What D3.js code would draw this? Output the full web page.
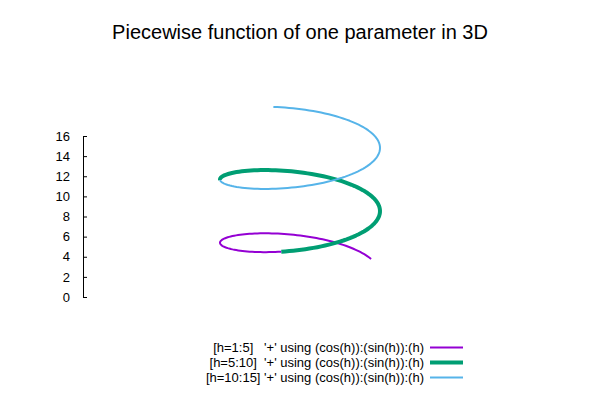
<!DOCTYPE html>
<html><head><meta charset="utf-8">
<script src="https://cdn.jsdelivr.net/npm/d3@7"></script>
<style>body{margin:0;background:#fff}svg{display:block}text{font-family:"Liberation Sans",Arial,sans-serif}</style>
</head><body>
<svg id="c" width="600" height="400"></svg>
<script>
// ---- data ----
const title = "Piecewise function of one parameter in 3D";
const segStart = [1, 5, 10];
const segEnd = [5, 10, 15];
const segLabels = [
  "[h=1:5]   '+' using (cos(h)):(sin(h)):(h)",
  "[h=5:10]  '+' using (cos(h)):(sin(h)):(h)",
  "[h=10:15] '+' using (cos(h)):(sin(h)):(h)"
];
const segColors = ["#9400d3", "#009e73", "#56b4e9"];
const segWidths = [2, 4, 2];
const zTicks = [0, 2, 4, 6, 8, 10, 12, 14, 16];
const samples = 100;
const viewRotZ = 30; // degrees (gnuplot default view 60,30)

// ---- drawing ----
const svg = d3.select("#c");
svg.append("text").attr("x", 300).attr("y", 39).attr("text-anchor", "middle")
  .attr("font-size", 20).text(title);

const zScale = d3.scaleLinear().domain([0, 16]).range([297, 136]);
const xScale = d3.scaleLinear().domain([-1, 1]).range([220, 380]);
const depthScale = d3.scaleLinear().domain([-1, 1]).range([-17.4 + 23, -17.4 - 23]);

const axis = d3.axisRight(zScale).tickValues(zTicks).tickSize(4).tickSizeOuter(4).tickPadding(0);
const ag = svg.append("g").attr("transform", "translate(83,0)").call(axis);
ag.select(".domain").attr("stroke", "#000").attr("stroke-width", 1);
ag.selectAll(".tick line").attr("stroke", "#000");
ag.selectAll(".tick text").attr("x", -13).attr("text-anchor", "end")
  .attr("font-size", 13).attr("fill", "#000").attr("font-family", '"Liberation Sans",Arial,sans-serif');

const rz = viewRotZ * Math.PI / 180;
function project(h) {
  const x = Math.cos(h), y = Math.sin(h), z = h;
  const u = x * Math.cos(rz) + y * Math.sin(rz);
  const v = -x * Math.sin(rz) + y * Math.cos(rz);
  return [xScale(u), zScale(z) + depthScale(v)];
}
const line = d3.line().x(d => d[0]).y(d => d[1]);

segStart.forEach((h0, i) => {
  const h1 = segEnd[i];
  const hs = d3.range(samples).map(k => h0 + (h1 - h0) * k / (samples - 1));
  svg.append("path").attr("d", line(hs.map(project)))
    .attr("fill", "none").attr("stroke", segColors[i]).attr("stroke-width", segWidths[i])
    .attr("stroke-linejoin", "round");
});

// legend
const legY = d3.scaleBand().domain(d3.range(segLabels.length)).range([340, 385]);
segLabels.forEach((lab, i) => {
  const y = legY(i) + legY.bandwidth() / 2;
  svg.append("text").attr("x", 424).attr("y", y + 4.5).attr("text-anchor", "end")
    .attr("font-size", 13).attr("xml:space", "preserve").style("white-space", "pre").text(lab);
  svg.append("line").attr("x1", 430).attr("x2", 463).attr("y1", y).attr("y2", y)
    .attr("stroke", segColors[i]).attr("stroke-width", segWidths[i]);
});
</script>
</body></html>
